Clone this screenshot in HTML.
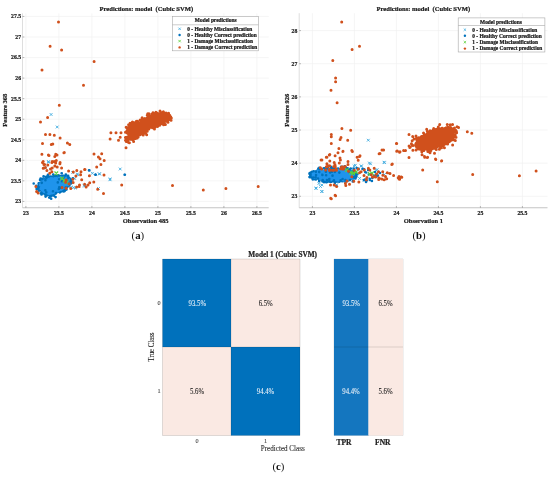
<!DOCTYPE html>
<html><head><meta charset="utf-8"><style>
html,body{margin:0;padding:0;background:#fff;}
svg{display:block;filter:blur(0.3px);}
text{font-family:"Liberation Serif",serif;}
</style></head><body>
<svg width="550" height="477" viewBox="0 0 550 477">
<path d="M25.9 13.4V207.8M58.9 13.4V207.8M91.9 13.4V207.8M124.9 13.4V207.8M157.9 13.4V207.8M190.9 13.4V207.8M223.9 13.4V207.8M256.9 13.4V207.8M22.5 201.4H268.7M22.5 180.85H268.7M22.5 160.3H268.7M22.5 139.75H268.7M22.5 119.2H268.7M22.5 98.65H268.7M22.5 78.1H268.7M22.5 57.55H268.7M22.5 37H268.7M22.5 16.45H268.7" stroke="#f0f0f0" stroke-width="0.7" fill="none"/>
<path d="M22.5 13.4V207.8" stroke="#dedede" stroke-width="1" fill="none"/>
<path d="M22.5 207.8H268.7" stroke="#c4c4c4" stroke-width="1.1" fill="none"/>
<path d="M25.9 207.8v-1.8M58.9 207.8v-1.8M91.9 207.8v-1.8M124.9 207.8v-1.8M157.9 207.8v-1.8M190.9 207.8v-1.8M223.9 207.8v-1.8M256.9 207.8v-1.8M22.5 201.4h1.8M22.5 180.85h1.8M22.5 160.3h1.8M22.5 139.75h1.8M22.5 119.2h1.8M22.5 98.65h1.8M22.5 78.1h1.8M22.5 57.55h1.8M22.5 37h1.8M22.5 16.45h1.8" stroke="#777" stroke-width="0.5" fill="none"/>
<text transform="translate(25.9 215.24) scale(1 1.0)" font-size="5.7" font-weight="bold" text-anchor="middle" fill="#202020" stroke="#202020" stroke-width="0.22">23</text>
<text transform="translate(58.9 215.24) scale(1 1.0)" font-size="5.7" font-weight="bold" text-anchor="middle" fill="#202020" stroke="#202020" stroke-width="0.22">23.5</text>
<text transform="translate(91.9 215.24) scale(1 1.0)" font-size="5.7" font-weight="bold" text-anchor="middle" fill="#202020" stroke="#202020" stroke-width="0.22">24</text>
<text transform="translate(124.9 215.24) scale(1 1.0)" font-size="5.7" font-weight="bold" text-anchor="middle" fill="#202020" stroke="#202020" stroke-width="0.22">24.5</text>
<text transform="translate(157.9 215.24) scale(1 1.0)" font-size="5.7" font-weight="bold" text-anchor="middle" fill="#202020" stroke="#202020" stroke-width="0.22">25</text>
<text transform="translate(190.9 215.24) scale(1 1.0)" font-size="5.7" font-weight="bold" text-anchor="middle" fill="#202020" stroke="#202020" stroke-width="0.22">25.5</text>
<text transform="translate(223.9 215.24) scale(1 1.0)" font-size="5.7" font-weight="bold" text-anchor="middle" fill="#202020" stroke="#202020" stroke-width="0.22">26</text>
<text transform="translate(256.9 215.24) scale(1 1.0)" font-size="5.7" font-weight="bold" text-anchor="middle" fill="#202020" stroke="#202020" stroke-width="0.22">26.5</text>
<text transform="translate(21 203.34) scale(1 1.0)" font-size="5.7" font-weight="bold" text-anchor="end" fill="#202020" stroke="#202020" stroke-width="0.22">23</text>
<text transform="translate(21 182.79) scale(1 1.0)" font-size="5.7" font-weight="bold" text-anchor="end" fill="#202020" stroke="#202020" stroke-width="0.22">23.5</text>
<text transform="translate(21 162.24) scale(1 1.0)" font-size="5.7" font-weight="bold" text-anchor="end" fill="#202020" stroke="#202020" stroke-width="0.22">24</text>
<text transform="translate(21 141.69) scale(1 1.0)" font-size="5.7" font-weight="bold" text-anchor="end" fill="#202020" stroke="#202020" stroke-width="0.22">24.5</text>
<text transform="translate(21 121.14) scale(1 1.0)" font-size="5.7" font-weight="bold" text-anchor="end" fill="#202020" stroke="#202020" stroke-width="0.22">25</text>
<text transform="translate(21 100.59) scale(1 1.0)" font-size="5.7" font-weight="bold" text-anchor="end" fill="#202020" stroke="#202020" stroke-width="0.22">25.5</text>
<text transform="translate(21 80.04) scale(1 1.0)" font-size="5.7" font-weight="bold" text-anchor="end" fill="#202020" stroke="#202020" stroke-width="0.22">26</text>
<text transform="translate(21 59.49) scale(1 1.0)" font-size="5.7" font-weight="bold" text-anchor="end" fill="#202020" stroke="#202020" stroke-width="0.22">26.5</text>
<text transform="translate(21 38.94) scale(1 1.0)" font-size="5.7" font-weight="bold" text-anchor="end" fill="#202020" stroke="#202020" stroke-width="0.22">27</text>
<text transform="translate(21 18.39) scale(1 1.0)" font-size="5.7" font-weight="bold" text-anchor="end" fill="#202020" stroke="#202020" stroke-width="0.22">27.5</text>
<text transform="translate(145.6 223.21) scale(1 1.0)" font-size="6.5" font-weight="bold" text-anchor="middle" fill="#202020" stroke="#202020" stroke-width="0.22">Observation 485</text>
<text transform="translate(6.61 110.2) rotate(-90) scale(1 1.0)" font-size="6.5" font-weight="bold" text-anchor="middle" fill="#202020" stroke="#202020" stroke-width="0.22">Feature 368</text>
<text transform="translate(146.3 10.84) scale(1 1.0)" font-size="6.6" font-weight="bold" text-anchor="middle" fill="#202020" stroke="#202020" stroke-width="0.22">Predictions: model&#160; (Cubic SVM)</text>
<path d="M49.75 113.15l2.7 2.7m0 -2.7l-2.7 2.7M55.85 125.65l2.7 2.7m0 -2.7l-2.7 2.7M47.05 160.85l2.7 2.7m0 -2.7l-2.7 2.7M44.15 166.65l2.7 2.7m0 -2.7l-2.7 2.7M76.35 173.45l2.7 2.7m0 -2.7l-2.7 2.7M83.65 184.55l2.7 2.7m0 -2.7l-2.7 2.7M118.85 167.65l2.7 2.7m0 -2.7l-2.7 2.7M108.65 178.45l2.7 2.7m0 -2.7l-2.7 2.7M91.05 171.95l2.7 2.7m0 -2.7l-2.7 2.7M97.85 172.45l2.7 2.7m0 -2.7l-2.7 2.7M108.75 177.55l2.7 2.7m0 -2.7l-2.7 2.7M76.05 172.65l2.7 2.7m0 -2.7l-2.7 2.7M98.25 172.65l2.7 2.7m0 -2.7l-2.7 2.7M71.35 171.15l2.7 2.7m0 -2.7l-2.7 2.7M82.55 184.25l2.7 2.7m0 -2.7l-2.7 2.7M70.15 185.75l2.7 2.7m0 -2.7l-2.7 2.7M97.15 187.15l2.7 2.7m0 -2.7l-2.7 2.7M47.25 160.25l2.7 2.7m0 -2.7l-2.7 2.7M68.33 178.22l2.7 2.7m0 -2.7l-2.7 2.7M73.36 177.15l2.7 2.7m0 -2.7l-2.7 2.7M74.26 186.69l2.7 2.7m0 -2.7l-2.7 2.7M67.25 185.47l2.7 2.7m0 -2.7l-2.7 2.7M69.62 181.17l2.7 2.7m0 -2.7l-2.7 2.7M72.39 186.28l2.7 2.7m0 -2.7l-2.7 2.7M65.07 187.33l2.7 2.7m0 -2.7l-2.7 2.7M63.03 174.73l2.7 2.7m0 -2.7l-2.7 2.7" stroke="#45aee0" stroke-width="0.95" fill="none"/>
<path d="M44.53 180.19h0M71.31 181.53h0M55.83 175.67h0M61.81 176.28h0M70.58 183.19h0M50.05 196.63h0M47.23 195.08h0M65.3 176.44h0M46.6 194.9h0M71.07 180.2h0M68.09 175.88h0M42.4 192.42h0M40.85 193.47h0M51.37 195.99h0M48.06 177.63h0M52.01 194.41h0M63.89 177.84h0M67.34 185.17h0M50.09 179.31h0M48.55 176.64h0M62.01 190.55h0M60.43 189.97h0M40.72 184.78h0M58.27 175.46h0M55.39 193.56h0M69.57 180.8h0M40.13 179.98h0M67.45 184.27h0M59.82 192.24h0M36.67 188.89h0M59.61 176.18h0M66.9 177.72h0M42.92 193.11h0M46.21 193.87h0M54.6 192.51h0M66.64 187.06h0M58.82 190.35h0M53.04 194.7h0M38.2 186.45h0M53.87 195.51h0M55.53 197.09h0M46.76 178.58h0M70.97 183.42h0M41.84 192.32h0M39.51 185.09h0M70.45 182.12h0M48.43 179.31h0M69.42 178.71h0M39.55 183.32h0M42.42 191.32h0M39.68 184.2h0M69.8 179.44h0M44.79 194.21h0M61.71 173.37h0M53.25 174.65h0M65.61 188.6h0M48.02 175.02h0M50.56 177.07h0M48.84 194.59h0M64.58 191.11h0M45.6 196.56h0M55.11 176.59h0M63.25 188.53h0M40.68 178.59h0M53.21 192.18h0M72.85 178.4h0M48.95 178.79h0M54.44 176.37h0M38.83 190.67h0M65.83 174.53h0M68.1 176.4h0M50.11 195.44h0M63.7 191.4h0M63.83 189.67h0M57.19 178.07h0M67.46 177.65h0M50.88 176.71h0M63.32 175.98h0M63.79 190.99h0M41.55 194.46h0M51.98 193.93h0M36.26 185.8h0M53.8 178.31h0M61.95 190.73h0M44.39 192.17h0M39.02 187.71h0M65.24 188.27h0M37.77 187.95h0M67.95 177.35h0M47.77 176.12h0M49.28 197.59h0M69.17 185.42h0M39.88 188h0M46.8 195.4h0M61.43 191.29h0M62.89 189.56h0M40.46 180.3h0M45.54 194.08h0M46.7 177.87h0M43.57 192.63h0M66.41 186.88h0M46.91 193.4h0M66.25 189.53h0M38.81 183.51h0M51.99 177.72h0M39.87 187.05h0M56.62 177.41h0M46.26 176.96h0M43.62 176.5h0M43.92 180.43h0" stroke="#0072bd" stroke-width="2.8" stroke-linecap="round" fill="none"/>
<path d="M53.05 187.99h0M53.59 181.42h0M52.1 183.36h0M48.29 187.49h0M55.35 183.87h0M59.73 182.52h0M68.95 177.99h0M64.75 184.06h0M51.65 192.14h0M67.07 178.22h0M55.06 190.69h0M41.59 186.38h0M70.75 180.57h0M42.68 181.53h0M49.97 181.46h0M52.79 191.95h0M55.52 187.27h0M69.41 182.64h0M69.3 182.42h0M59.43 188.66h0M53.09 178.43h0M48.42 179.74h0M48.97 184.72h0M48.92 182.41h0M54.51 189.06h0M52.74 193.67h0M52.14 192.2h0M61.2 177.67h0M50.53 182.34h0M53.46 190.43h0M54.21 183h0M61.3 181.29h0M61.77 183.96h0M54.26 179.61h0M45.45 192.49h0M57.41 184.08h0M39.39 187.75h0M47.39 180.82h0M54.79 187.56h0M52.94 189.66h0M69.39 179.22h0M46.55 187.66h0M52.09 182.03h0M55.11 189.33h0M65.2 182.63h0M46.87 189.05h0M45.21 187.01h0M52.52 177.57h0M45.41 187.08h0M51.84 190.61h0M53.9 192.8h0M63.25 185.46h0M50.41 180.09h0M48.3 182.79h0M50.51 179.42h0M54.1 178.13h0M66.77 186.53h0M41.99 182.27h0M47.12 178.98h0M54.34 179.5h0M43.8 189.44h0M52.7 188.86h0M54 185.64h0M48.9 184.15h0M54.35 182.55h0M65.41 180.71h0M46.01 182.58h0M57.04 182.9h0M59.73 191.82h0M46.72 188.77h0M61.69 183.46h0M43.58 187.62h0M45.67 183.04h0M40.42 188.29h0M39.81 186.54h0M42.76 188.61h0M50.51 188.53h0M44.77 181.24h0M44.22 179.79h0M56.38 184.37h0M65.39 185.52h0M56.23 189.59h0M66.29 187.19h0M40.12 184.78h0M39.97 187.57h0M41.02 186.32h0M43.74 192.37h0M41.96 188.62h0M61.49 181.26h0M57.93 182.31h0M47.24 180.96h0M39.45 188.88h0M41.73 191.39h0M55.91 184.94h0M57.63 191.47h0M58.94 185.82h0M48.97 185.89h0M54.23 193h0M39.25 187.04h0M43.35 186.74h0M60.21 176.29h0M66.82 180.83h0M56.69 182.76h0M49.94 183.71h0M39.06 184.2h0M47.43 182.83h0M44.16 182.4h0M45.26 192.59h0M58.64 177.93h0M46.44 178.03h0M59.95 189.52h0M67.62 185.57h0M48.94 182.09h0M45.5 188.15h0M51.33 182.73h0M41.51 187.38h0M70.44 181.29h0M47.61 193.59h0M62.92 188.35h0M45.16 181.3h0M64.86 177.65h0M55.96 180.07h0M63.47 186.97h0M42.17 183.13h0M50.83 179.59h0M48.02 180.74h0M43.89 182.58h0M46.92 185.77h0M44.05 186.89h0M60.53 178.91h0M55.98 179.82h0M50.61 182.19h0M65.05 180.47h0M56.25 187.2h0M49.51 193.79h0M49.58 182.24h0M61.13 185.33h0M62.16 178.92h0M43.68 190.09h0M51.39 192.4h0M46.42 180.59h0M66.6 182.92h0M42.46 180.21h0M63.6 181.07h0M56.75 191.97h0M58.5 190.4h0M70.24 181.72h0M67.02 186.54h0M45.39 178.52h0M49.45 178.63h0M63.67 186.67h0M58.04 184.47h0M43.46 184.99h0M53.65 187.64h0M56.58 187.93h0M45.32 178.84h0M57.7 185.56h0M67.83 180.07h0M42.59 179.06h0M54.89 181.57h0M53.53 189.16h0M49.24 188.73h0M39.57 186.45h0M46.48 181.69h0M53.3 185.74h0M65.2 184.56h0M40.48 189.39h0M46.07 192.89h0M45.73 181.65h0M43.34 181.78h0M58.2 181.11h0M40.49 187.22h0M62.49 178.08h0M52.53 177.3h0M39.48 183.16h0M48.12 192.75h0M39.37 188.37h0M62.45 183.98h0M54.99 180.72h0M43.33 189.86h0M53.6 185.79h0M48.37 179.08h0M64.55 178.36h0M48.42 190.39h0M48.49 194.21h0M44.56 186.09h0M56.18 185.57h0M63.75 176.87h0M56.43 191.11h0M40.56 186.45h0M53.06 183.74h0M56.17 187.95h0M60.24 181.14h0M47.53 178.27h0M60.84 189.19h0M58.55 183.32h0M53.8 180.96h0M49.21 186.96h0M44.73 192.35h0M54.33 183.09h0" stroke="#0072bd" stroke-width="3" stroke-linecap="round" fill="none"/>
<path d="M42.22 181.85h0M57.59 181.85h0M41.7 186.84h0M49.25 191.3h0M60.57 189.21h0M49.99 186.66h0M47.94 180.52h0M47.36 180.91h0M60.01 181.35h0M41.74 184.2h0M46.25 188.67h0M46.85 186.46h0M45.52 185.21h0M65.69 182.22h0M55.77 184.48h0M64.97 182.84h0M60.4 184.05h0M64.84 180.41h0M54.5 186.32h0M63.54 177.64h0M50.96 185.09h0M57.56 179.52h0M56.24 188.74h0M61.77 180.9h0M53.25 182.13h0M51.69 183.22h0M48.75 191.49h0M43.52 190.99h0M54.78 192.33h0M65.91 177.93h0M54.92 181.2h0M50.9 183.98h0M40.5 185.08h0M66.49 178.17h0M54.2 184.45h0M51.37 191.88h0M44.17 180.67h0M65.01 185.32h0M54.82 181.77h0M55.88 185.51h0M49.1 181.02h0M50.82 189.44h0M47.25 181.71h0M43.97 183.7h0M51.23 188.55h0M66.53 181.29h0M64 182.3h0M52.25 179.29h0M66.43 183.39h0M60.83 177.59h0M60.72 180.93h0M53.56 188.41h0M45.36 185.96h0M64.77 179.88h0M54.03 180.23h0M44.57 185.34h0M53.71 187.91h0M50.2 185.28h0M60.31 185.55h0M44.28 191.66h0M48.59 183.92h0M66.19 180.62h0M67.05 180.98h0M42.93 185.74h0M63.59 183.88h0M64.97 183.78h0M64.17 179.04h0M48.65 179.2h0M61.96 185h0M59.51 181.14h0M42.69 182.48h0M65.83 180.94h0M56.82 178.59h0M52.96 186.78h0M47.93 184.21h0M51.07 178.57h0M42.38 190.21h0M63.31 177.19h0M43.77 182.48h0M62.76 181.38h0M49.83 179.28h0M44.34 183.99h0M64.66 178.43h0M52.92 183.08h0M66.42 179.71h0M59.51 182.55h0M48.92 181.76h0M43.96 181.42h0M43.87 190.25h0M68.79 183.56h0M48.74 190.07h0M57.84 188.59h0M56.78 186.05h0M57.81 179.34h0M42.24 182.99h0M56.37 181.31h0M45.61 184.61h0M52.34 181.64h0M41.75 185.17h0M47.32 182.77h0M59.33 178.46h0M48.24 188.71h0M68.16 179.09h0M56.73 184.93h0M49.44 181.96h0M42.91 187.97h0M46.15 184.22h0M67.46 182.97h0M49.61 192.74h0M57.41 186.69h0M46.87 187.87h0M51.45 186.24h0M68.34 182.27h0M48.6 179.42h0M49.3 182.58h0M45.75 181.57h0M48.96 191.49h0M53.41 190.85h0M42.41 185.81h0M48.84 180.4h0M58.15 187.33h0M45.87 186.16h0M53.65 191.3h0M49.96 190.1h0M47.65 193h0M42.38 184.82h0M58.8 186.66h0M58.66 184.14h0M52.94 181.9h0M44.6 182.42h0M67.37 181.46h0M56.14 178.26h0M56.49 187.95h0M45.14 181.55h0M61.87 182.78h0M65.96 181.13h0M49.54 188.72h0M48.79 186.03h0M52.37 188.45h0M47.02 191.18h0M61.2 180.07h0M49.55 182.77h0M67.52 184.77h0M51.96 192.97h0M43.38 188.72h0M51.51 191.08h0M55.93 188.61h0M50.67 186.97h0M60.75 183.45h0M54.7 191.25h0M67.5 183.01h0M62.64 183.3h0M65.19 186.31h0M52.01 183.48h0M59.06 183.92h0M61.03 186.03h0M58.9 182.72h0M65.85 183.7h0M62.09 181.26h0M65.54 183.28h0M54.44 186.1h0M50.44 185.24h0M49.56 188.58h0M68.06 183.2h0M66.26 178.56h0M47.43 187.73h0M43.01 187.22h0M61.06 189.61h0M65.39 182.06h0M43.77 190.81h0M47.3 190.11h0M53.28 191.15h0M48.44 183.09h0M58.72 186.89h0M49.28 179.17h0M62.01 188.64h0M48.36 180.62h0M50.59 178.69h0M46.41 184.47h0M52.2 179.26h0M48.24 188.43h0M52.27 186.68h0M61.88 188.16h0M65.46 178.58h0M55.59 187.43h0M53.92 179.95h0M46.06 183.52h0M67.96 183.17h0M61.08 183.38h0M52.21 179.49h0M45.77 190.03h0M52.91 181.92h0M48.1 184.41h0M56.93 179.93h0M52.85 181.9h0M64.03 178.73h0M42.36 185.98h0M51.78 187.28h0M50.18 193.13h0M46.74 190.86h0M48.19 188.01h0M52.87 185.94h0M55.62 187.61h0M68.71 181.38h0M50.79 181.16h0M52.13 182.52h0M49.83 193.6h0M44.5 186.33h0M64.81 179.28h0M44.33 190.81h0M47.5 180.48h0M67.9 180.4h0M64.65 182.28h0M56.89 182.35h0M50.28 192.73h0M66.87 180.07h0M61.52 179.48h0M59.29 189.29h0M51.9 180.11h0M40.51 184.51h0M67.62 184.65h0M57.67 181.03h0M62.23 184.13h0M60.99 180.88h0M67.83 179.89h0M44.82 191.61h0M59.19 187.24h0M47.8 182.64h0M47.24 184.53h0M59.29 189.33h0M60.98 182.95h0M50.19 189.91h0M68.8 180.86h0M52.43 181.77h0M50.07 188.52h0M51.17 187.8h0M52.79 192.44h0M53.74 190.73h0M57.2 183.38h0M68.59 180.42h0M65.16 187.35h0M53.02 190.93h0M53.24 188.06h0M43.52 189.44h0M50.75 192.33h0M64.79 184.14h0M46.81 190.2h0M48.41 191.5h0M54.38 192.78h0M49.03 192.61h0M49.22 184.64h0M58.84 186.42h0M59.96 188.78h0M61.49 187.18h0M56.82 185.44h0M67.47 182.12h0M66.99 179.96h0M44.88 190.02h0M52.97 188.83h0M48.65 193.03h0M50.35 183.35h0M46.51 181.52h0M60.01 183.46h0M61.46 184.55h0M50.33 179.81h0M47.05 192.22h0M53.66 182.39h0M46.75 191.8h0M60.93 188.76h0M63.86 181.18h0M61.71 178.34h0M59.78 182.54h0M59.69 180.94h0M50.7 188.35h0M67.8 182.85h0M40.88 182.92h0M62.96 179.07h0M52.28 185.84h0M42.13 184.72h0M63.1 186.23h0M57.07 182.29h0M45.04 179.95h0M59.07 190.07h0M48.78 182.74h0M46.11 186.24h0M53.13 179.81h0M62.79 182.03h0M51.77 186.9h0M67.17 181.21h0M54.29 184h0M48.11 189.96h0M43.29 182.29h0M45.77 189.19h0M58.26 183.8h0M63.25 187.76h0M46.95 185.34h0M61.09 187.54h0M56.23 189.48h0M41.34 187.52h0M53.06 191.12h0M68.73 179.02h0M51.44 184.16h0M57.89 182.25h0M59.73 182.65h0M56.58 178.8h0M56.84 185.15h0M59.22 186.62h0M57.1 189.47h0M44.28 189.71h0M58.58 188.66h0M52.04 178.57h0M64.15 178.87h0M44.29 183.96h0M55.93 188.06h0M63.75 178.86h0M50.28 191.99h0M62.42 177.41h0M58.67 179.26h0M65.46 178.24h0M48.53 188.93h0M47.8 180.58h0M50.08 182.05h0M68.47 181.08h0M52.77 185.27h0M44.22 188.21h0M45.41 191.71h0M57.76 179.43h0M65.19 185.93h0M54.55 178.51h0M65.61 178.41h0M60.22 183.43h0M56.04 187.59h0M45.25 191.52h0M49.17 181.91h0M62.88 186.52h0M51.71 190.37h0M48.93 193.8h0M64.4 180.07h0M50.17 185.73h0M43.63 184.23h0M50.71 178.58h0M57.98 184.69h0M45.04 190.32h0M66.04 183.99h0M43.06 181.98h0M50.04 179.97h0M46.62 188.42h0M45.59 182.09h0M45.2 187.13h0M54.11 190.28h0M63.45 187.76h0M63.8 183.48h0M62.21 185.89h0M41.44 184.29h0M57.63 190.91h0M42.06 188.38h0M50.08 187.86h0M66.79 180.47h0M64.69 182.8h0M48.81 188.68h0M67.55 183.07h0M63.58 184.27h0M43.09 185.08h0M40.94 183.85h0M47.93 182.77h0M60.98 181.23h0M62.26 188.82h0M55.79 181.14h0M46.45 184.16h0M48.45 191.94h0M53.97 188.48h0M45.07 182.49h0M46.85 187.48h0M61.71 188.89h0M58.93 178.36h0M63.68 179.34h0M45.27 186.88h0M40.87 188.65h0M65 182.1h0M42.16 189.76h0" stroke="#1f94ec" stroke-width="3" stroke-linecap="round" fill="none"/>
<path d="M55.87 193.16h0M59.21 187.37h0M45.41 180.27h0M52.97 191.21h0M62.02 181.31h0M45.35 190.33h0M70.59 181.87h0M66.1 180.71h0M65.66 187.47h0M63.49 177.39h0M41.75 182.83h0M61.71 187.46h0M60.09 187.78h0M65.92 180.52h0M58.8 189.07h0M63.17 177.81h0M59.08 179.24h0M68.38 177.95h0M46.32 192.36h0M57.81 182.42h0" stroke="#0072bd" stroke-width="2.6" stroke-linecap="round" fill="none"/>
<path d="M89.4 170.4h0M124.6 174.8h0M95.3 174.8h0M124.9 174.7h0M95.8 174.7h0M89 170.4h0M95.5 174.7h0M33.7 183.5h0M51.2 198.7h0" stroke="#0072bd" stroke-width="2.6" stroke-linecap="round" fill="none"/>
<path d="M54.5 171.5l3.6 3.6m0 -3.6l-3.6 3.6M62.7 178.7l3.6 3.6m0 -3.6l-3.6 3.6M64.7 180.5l3.6 3.6m0 -3.6l-3.6 3.6M60.2 176.7l3.6 3.6m0 -3.6l-3.6 3.6" stroke="#5cd13a" stroke-width="1.2" fill="none"/>
<path d="M58.5 22.1h0M50.1 46.3h0M61.6 50.1h0M94.1 61.6h0M42 70h0M83.5 85.2h0M59.3 105.3h0M47.6 117.5h0M40.5 122h0M45.5 134.6h0M49.9 134.6h0M54.3 135.2h0M60.1 138h0M42.5 143.4h0M51.3 144.6h0M52.8 144h0M67.4 143h0M69.8 144.6h0M41.9 154.3h0M48.4 155h0M55.7 154.3h0M63.9 152.8h0M64.3 152.6h0M49 155.5h0M54.8 156.5h0M57 155.1h0M42.5 162.5h0M44.6 164.5h0M47.8 165.1h0M52.2 161.6h0M55.7 163h0M60.1 162.5h0M43.2 161.6h0M43.9 164.5h0M51.9 162.4h0M54.1 161.6h0M56.3 160.5h0M59.9 163.8h0M44 168h0M46.9 170.4h0M52.2 168h0M57.2 166.9h0M61.6 168h0M43.2 168.2h0M45.4 167.5h0M54.8 166h0M50.5 168.9h0M51.9 171.8h0M49.7 173.3h0M73.3 171.9h0M76.8 170.4h0M80.6 174.8h0M85 169.5h0M89.4 175.7h0M93.8 182.1h0M88 185h0M79.2 186.5h0M84.6 169.6h0M81 171.8h0M68.6 171.1h0M75.9 175.9h0M81.7 179.8h0M84.6 184.2h0M89.7 182.7h0M79.5 184.9h0M76.6 187.1h0M86.1 187.1h0M97.7 189.3h0M103.5 193.6h0M35.9 186.4h0M36.6 191.5h0M38.1 192.9h0M110.9 132.7h0M116 132.7h0M121 132.7h0M110.1 138.9h0M118.5 140.3h0M120.2 137.2h0M126 147.8h0M133.6 141.6h0M129.4 142.8h0M101.7 153.7h0M98.4 157h0M96.7 167.1h0M100.9 164.6h0M104.2 160.4h0M100 158.7h0M94 154h0M104 175h0M121.7 185h0M172.5 185.6h0M203.3 190h0M225.9 188.6h0M258.2 186.5h0M70.75 188.56h0M72.86 179.15h0M66.2 188.23h0M62.07 187.5h0M73.16 182.55h0M66.24 179.9h0M65.57 182.23h0M69.06 183.75h0M153.13 114.27h0M148.31 119.79h0M156.45 118.51h0M162.2 117.26h0M131.41 127.75h0M142.65 129.29h0M161.63 123.36h0M155.8 117.16h0M145.95 119.57h0M167.95 118.9h0M155.6 121.22h0M133.08 135.99h0M151.35 117.02h0M150.62 117.97h0M151.35 123.28h0M129.18 136.83h0M147.09 127.92h0M141.02 133.45h0M145.45 127.28h0M163.98 122.41h0M142.41 127.15h0M161.39 116.78h0M128.19 130.12h0M157.86 119.21h0M135.87 122.92h0M138.06 134.93h0M141.46 123.87h0M162.62 116.12h0M152.77 126.07h0M147.02 130.11h0M154.08 118.06h0M158.03 116.14h0M135.41 128.45h0M129.22 129.08h0M134.51 131.45h0M153.06 118.26h0M163.2 114.45h0M141.71 121.7h0M132.29 130.06h0M160.84 121.58h0M132.98 133.87h0M164.39 118.42h0M153 115.68h0M141.23 132.65h0M154.73 118.9h0M133.17 131.04h0M162.22 123.29h0M143.09 127.7h0M141.35 125.48h0M130.99 133.48h0M151.74 121.2h0M130.83 133.77h0M165.38 120.38h0M153.44 118.15h0M143.24 132.35h0M131.63 132.8h0M155.7 123.13h0M130.27 127.14h0M159.17 118.25h0M138.69 127.61h0M159.99 123.79h0M154.33 118.08h0M157.67 125.14h0M143.36 124.46h0M128.98 135.97h0M150.21 123.58h0M133.34 133.69h0M165.98 116.42h0M151.56 125.18h0M158.88 118.24h0M165.72 118.96h0M159.66 114.91h0M140.68 121.54h0M137.87 123.76h0M135.25 131.24h0M138.68 127.36h0M139.39 127.07h0M164.01 117.94h0M136.26 126.81h0M152.61 114.87h0M137.45 125.68h0M159.14 117.57h0M134.06 127.02h0M139.35 134.81h0M144.9 131.84h0M162.41 122.16h0M155.51 118.74h0M130.32 132.81h0M128.24 139.06h0M147.13 124.17h0M158.06 115.37h0M146.47 130.19h0M152.33 119.1h0M135.75 136.9h0M135.84 125.39h0M147.01 129.9h0M154.35 124.09h0M150.87 123.81h0M158.63 123.39h0M148.59 122.24h0M162.07 123.4h0M142.29 125.21h0M143.09 128.84h0M143.32 120.31h0M156.18 115.06h0M163.72 121.56h0M148.21 118.44h0M143.16 127.88h0M129.96 132.94h0M130.2 131.59h0M137.86 130.52h0M143.3 130.35h0M138.35 126h0M157.18 118.38h0M158.87 122.4h0M138.31 124.94h0M145.99 130.42h0M138.83 134.56h0M135.27 129.81h0M144.53 124.4h0M161.65 117.44h0M155.46 114.42h0M159.79 118.87h0M128.94 135.61h0M141.59 126.98h0M128.37 132.71h0M156.53 124.49h0M140.26 125.21h0M166.28 120.62h0M166.75 120.36h0M156.88 116.59h0M161.57 116.26h0M140.63 130.13h0M139.81 133.62h0M143.36 132.73h0M156.71 123.58h0M128.69 139.18h0M157.35 118.63h0M158.06 120.63h0M146.27 120.88h0M147.01 118.89h0M138.97 128.59h0M132.8 137.06h0M130.37 129.2h0M131.01 128.47h0M154.57 121.85h0M150.54 118.45h0M151.89 126.39h0M134.51 129.86h0M161.66 116.74h0M144.4 120.4h0M143.11 127.76h0M132.05 135.25h0M166.11 115.82h0M135.62 125.81h0M166.02 114.98h0M134.73 126.28h0M158.89 116.23h0M161.29 121.51h0M160.17 113.42h0M163.92 117.48h0M148.77 117.56h0M133.02 125.68h0M142.46 128.99h0M141.4 133.55h0M138.26 124.04h0M159.07 124.1h0M140.54 133.03h0M145.85 129.41h0M166.6 117.03h0M156.6 116.57h0M165.36 115.87h0M130.39 128.49h0M146.72 128.37h0M147.24 125.23h0M143.69 124.81h0M159.31 123.22h0M141.07 130.33h0M139.95 130.32h0M151.69 119.95h0M142.11 129.6h0M152.19 117.26h0M157.05 115.24h0M168.02 118.56h0M156.88 122.18h0M129.06 127.99h0M128.88 138.21h0M153.99 115.8h0M134.09 137.55h0M141.58 122.1h0M131.2 134.66h0M153.36 115.8h0M138.45 128.9h0M128.22 137.23h0M144.38 121.52h0M129.86 126.94h0M148.61 124.88h0M151.61 118.77h0M156.72 118.34h0M145.47 130.98h0M143.5 126.73h0M139.93 130.88h0M139.68 134.85h0M139.57 132.6h0M141.52 129.41h0M143.4 122.57h0M153.57 115.72h0M161.22 117.9h0M168.04 118.57h0M135.95 127.16h0M132.94 134.8h0M166.05 116.92h0M151.91 124.52h0M155.3 120.92h0M144.23 125.64h0M165.3 119.75h0M157.56 121.46h0M155.64 115.63h0M131.19 125.87h0M152.29 121.71h0M132.12 135.06h0M133.33 127.77h0M153.84 124.69h0M158.08 120.04h0M145.26 124.32h0M160.09 117.84h0M147.13 125.68h0M140.78 131.93h0M130.67 126.55h0M129.65 127.96h0M135.32 123.05h0M140.3 129.4h0M141.3 128.52h0M167.65 116.3h0M139.85 134.17h0M133.74 127h0M139.97 127.97h0M130.05 129.14h0M159.68 115.71h0M163.84 114.63h0M157.43 118.42h0M154.9 120.93h0M131.22 125.61h0M143.63 128.87h0M141.69 124.14h0M167.77 120.73h0M132.9 135.59h0M131.22 134.4h0M130.34 139.24h0M164.16 121.29h0M132.92 137.09h0M148.38 119.77h0M144.6 130.43h0M134.31 126.02h0M131.21 126.92h0M138.5 128.15h0M131.09 132.38h0M159.44 114.69h0M157.92 116.79h0M167.11 120.78h0M142.76 121.95h0M132.87 137.9h0M165.01 116.42h0M166.75 117.73h0M144.69 127.9h0M158.29 122.49h0M130.73 132.26h0M159.89 117.85h0M146.77 127.25h0M156.25 123.71h0M144.82 122.99h0M148.16 120.7h0M145.95 121.03h0M141.93 129.86h0M150.72 125.1h0M141.19 132.27h0M138.6 126.87h0M156.01 118.53h0M130.14 134.52h0M140.99 130.92h0M131.09 131.04h0M146.23 119.18h0M158.67 122.95h0M131.25 127.78h0M164.61 114.62h0M159.77 120.16h0M156.66 123.36h0M141.02 126.31h0M143.61 131.44h0M141.99 129.55h0M146.75 128.33h0M136.76 123.54h0M130.67 130.89h0M131.97 129.89h0M132.89 137.25h0M133.44 128.8h0M145.63 120.89h0M154.47 119.07h0M143.04 129.98h0M166.22 121.26h0M156.64 125.1h0M160.85 119.41h0M146.95 118.19h0M146.89 119.43h0M154.59 118.15h0M162.2 121.15h0M141.68 121.94h0M134.07 126.4h0M142.97 124.5h0M136.67 126.85h0M167.22 115.4h0M145.98 122.66h0M148.68 118.35h0M142.15 124.11h0M133.69 128.08h0M154.78 125.58h0M128.08 132.47h0M138.29 134.24h0M147.96 127.6h0M130.47 126.49h0M140.75 123.68h0M145.97 121.03h0M156.07 113.97h0M140 134.85h0M142.14 122.7h0M155.16 114.88h0M144.33 130.36h0M156.27 125.32h0M144.89 121.8h0M145.89 120.32h0M150.2 119.08h0M164.6 121.17h0M146.82 120.23h0M147.65 122.17h0M143.59 125.64h0M155.83 120.41h0M162.32 120.56h0M141.07 132.71h0M143.41 122.05h0M146.3 120.86h0M143.62 122.09h0M143.3 129.86h0M148.33 118.43h0M157.66 117.34h0M156.75 119.97h0M159.93 116.57h0M138.76 125.6h0M134.77 127.69h0M141.93 130.84h0M137.86 132.25h0M130.45 138.73h0M151.64 120.46h0M145.69 127.11h0M149.18 119.8h0M138.64 122.93h0M150 122.79h0M129.82 137.5h0M166.6 118.13h0M145.02 123.21h0M134.56 131.02h0M137.16 127.03h0M156.9 123.55h0M144.96 130.69h0M133.99 135.84h0M135.78 132.17h0M134.34 136.98h0M135.99 132.9h0M162.56 119.99h0M131.46 128.97h0M148.4 126.07h0M148.32 126.29h0M146.55 124.08h0M160.23 116.17h0M136.16 127.35h0M143.16 126.69h0M146.42 124.35h0M144.66 129.24h0M131.39 137.23h0M130.76 137.48h0M156.26 123.11h0M131.19 136.6h0M155.31 119.37h0M151.23 121.43h0M136.7 125.49h0M131.58 138.24h0M162.39 116.95h0M156.52 121.39h0M142.6 131.87h0M148.03 120.69h0M141.83 128.76h0M167 121.14h0M161.32 116.17h0M139.2 127.22h0M160.05 113.54h0M166.88 119.78h0M141.47 125.62h0M162.39 122.76h0M154.27 122.06h0M149.97 116.08h0M129.15 138.68h0M149.75 116.48h0M165.54 120.4h0M142.4 124.2h0M132.11 133.83h0M145.39 128.48h0M139.46 122.85h0M152.46 124.54h0M138.74 127.15h0M156.25 115.43h0M137.82 133.69h0M165.79 115.49h0M152.71 123.6h0M130.35 133.94h0M139.94 125.75h0M161.97 114.03h0M139.73 126.32h0M163.1 120.4h0M161.91 119.71h0M140.23 128.09h0M164.26 119.86h0M165.79 116.53h0M134.52 133.8h0M140.33 128.95h0M148.32 117.03h0M142.91 125.15h0M134.95 126.52h0M160.9 120.79h0M160.42 121.54h0M159.85 123.47h0M136.77 136.19h0M137.25 126.43h0M135.97 134.3h0M129.45 137.5h0M155.72 117.35h0M152.79 122.74h0M147.6 120.19h0M159.5 116.39h0M140.64 126.9h0M129.22 135.78h0M136.35 124.65h0M132.39 130.58h0M152.88 118.44h0M156.72 116.22h0M138.84 125.23h0M143.05 123.65h0M136.25 127.22h0M129.28 137.71h0M154.74 120.91h0M132.06 126.09h0M128.54 135.99h0M160.05 114.32h0M132.86 127.31h0M156.33 122.17h0M158.24 122.03h0M148.3 125.81h0M155.18 118.94h0M135.07 136.32h0M156.61 121.69h0M151.61 120.12h0M159.01 123.24h0M158.16 116.46h0M131.26 130.14h0M165.9 117.28h0M149.97 126.82h0M165.16 117.43h0M159.79 120.54h0M151.5 120.66h0M141.13 134.06h0M152.73 114.42h0M134.67 133.79h0M130.23 137.49h0M136.98 127.82h0M160.49 124.05h0M152.41 119.06h0M131.99 127.45h0M159.45 114.87h0M163.04 115.31h0M158.8 122.31h0M161.26 115.67h0M156.03 122.19h0M166.89 121.13h0M158.22 120.98h0M145.27 130.32h0M131.93 133.13h0M136.82 126.59h0M161.83 120.21h0M130.87 125.74h0M140.12 130.75h0M133.9 129.8h0M157.43 122.37h0M134.97 136.76h0M159.29 119.13h0M130.51 132.24h0M143.27 132.59h0M139.92 130.81h0M143.85 125.69h0M146.85 120.63h0M128.39 133.86h0M147.26 118.52h0M144.71 120.19h0M143.49 125.22h0M151.21 119.08h0M138.44 127.05h0M131.78 134.23h0M134.88 125.11h0M154.35 116.82h0M144.65 128.34h0M160.32 116.35h0M155.87 117.41h0M136.65 135.65h0M161.27 123.38h0M149.62 117.77h0M134.3 133.27h0M156.54 114.06h0M160.19 122.23h0M149 118.35h0M152.9 123.85h0M157.68 119.88h0M130.25 136.93h0M152.85 124.44h0M142.42 126.35h0M136.87 124.67h0M144 120.79h0M153.19 120.02h0M167.04 117.99h0M128.03 139.14h0M165.32 119.67h0M136.58 132.46h0M138.53 132.33h0M159.14 113.63h0M132.3 132.37h0M165.65 114.68h0M153.81 124.72h0M156.98 119.69h0M150.1 120.13h0M162.36 118.83h0M167.44 119.28h0M153.53 120.25h0M161.65 118.52h0M153.89 121.6h0M134.95 136.32h0M135.04 129.6h0M139.57 126.98h0M146.74 128.35h0M138.94 130.9h0M143.4 124.54h0M155.63 121.86h0M167.11 118.09h0M130.1 137.35h0M144.74 126.86h0M166.63 119.02h0M149.21 125.74h0M148.12 119.11h0M141 124.99h0M146.24 127.94h0M128.73 132.98h0M141.46 123.11h0M129.19 136.98h0M152.59 117.19h0M144.51 120.3h0M128.28 139.26h0M161.62 119.95h0M135.54 127.31h0M141.85 128.95h0M132.76 127.14h0M140.5 132.19h0M158.5 115.29h0M136.42 133.18h0M135.62 127.47h0M138.45 124.77h0M146.15 120.49h0M162.72 115.53h0M147.36 129.5h0M130 134.47h0M143.1 125.8h0M136.49 124.77h0M134.33 135.52h0M166.45 115.08h0M155.95 121.31h0M156.35 113.56h0M140.86 122.13h0M151.71 115.84h0M153.55 124.18h0M133.87 129h0M149.06 123.82h0M144.55 120.36h0M131.89 128.1h0M143.63 130.99h0M161.16 123.83h0M146.19 130.19h0M132.21 127.49h0M133.69 127.14h0M146 123.36h0M131.96 125.32h0M160.18 121.06h0M152.89 114.57h0M136.08 123.93h0M140.88 123.4h0M153.06 118.48h0M137.95 129.97h0M169.62 115.23h0M168.61 113.31h0M146.66 134.79h0M127.17 140.11h0M145.65 132.99h0M135.43 136.09h0M164.55 124.32h0M170.72 116.95h0M169.44 119.58h0M165.97 114.45h0M141.3 120.36h0M135.39 137.38h0M163.79 115.22h0M127.54 129.44h0M160.03 111h0M132.32 139.41h0M141.94 133.53h0M163.61 113.73h0M132.02 122.9h0M134.88 137.66h0M144.83 118.38h0M127.62 127.61h0M129.82 137.8h0M127.23 133.04h0M128.6 129.99h0M126.23 139.04h0M125.47 132.23h0M130.06 123.13h0M171.08 120.33h0M127 127.81h0M156.84 113.24h0M152.94 127.86h0M128.31 139.19h0M163.49 114.94h0M157.49 126.43h0M171.32 118.03h0M163.53 124.69h0M153.01 112.83h0M126.3 141.38h0M166.09 113.08h0M141.83 133.25h0M148.08 115.03h0M145.61 119.08h0M155.92 112.27h0M154.86 127.6h0M169.98 115.87h0M137.17 138.09h0M131.89 123.04h0M128.6 124.74h0M161.56 112.84h0M136.41 121.27h0M152.06 127.57h0M156.6 114.34h0M152.96 112.86h0M163.25 124.37h0M149.01 113.72h0M127.54 140.91h0M140.56 121.05h0M146.2 131.52h0M133.37 122.43h0M148.85 128.97h0M165.25 113.58h0M161.02 112.79h0M133.28 139.21h0M164.05 112.68h0M137.39 121.54h0M142.1 117.86h0M147.25 131.28h0M162.81 112.28h0M132.42 122h0M147.72 113.87h0M154.46 129.05h0M135.5 138.62h0M143.3 134.61h0M163.36 111.82h0M137.46 121.27h0M168.31 114.91h0M127.04 130.68h0M170.82 117.49h0M125.48 140.35h0M169.03 116.98h0M137.91 137.28h0M132.45 122.86h0M147.22 115.19h0M130.74 125.56h0M126.43 137.13h0M167.99 122.13h0M147.87 115.88h0M129.64 128.25h0M126.15 127.33h0M135.35 122.44h0M125.4 137.55h0M161.47 112.57h0M139.66 134.39h0M152.33 127.8h0M152.01 114.07h0M153.48 113.23h0M138.16 137.02h0M129.15 125.3h0M143.2 135.08h0M128.55 127.31h0M151.21 127.24h0M160.73 114.31h0M140.12 120h0M128.41 142.14h0M159.62 125.37h0M157.5 113.14h0M165.4 124.4h0M160.52 112.66h0M132.78 123.4h0" stroke="#d0501c" stroke-width="3.0" stroke-linecap="round" fill="none"/>
<rect x="172.3" y="16.4" width="86.1" height="34.4" fill="#fff" stroke="#a8a8a8" stroke-width="0.6"/>
<path d="M172.3 24.8H258.4" stroke="#a8a8a8" stroke-width="0.6"/>
<text transform="translate(215.7 22.34) scale(1 1.0)" font-size="5.4" font-weight="bold" text-anchor="middle" fill="#202020" stroke="#202020" stroke-width="0.22">Model predictions</text>
<text transform="translate(187.2 30.64) scale(1 1.0)" font-size="5.4" font-weight="bold" text-anchor="start" fill="#202020" stroke="#202020" stroke-width="0.22">0 - Healthy Misclassification</text>
<text transform="translate(187.2 36.84) scale(1 1.0)" font-size="5.4" font-weight="bold" text-anchor="start" fill="#202020" stroke="#202020" stroke-width="0.22">0 - Healthy Correct prediction</text>
<text transform="translate(187.2 42.94) scale(1 1.0)" font-size="5.4" font-weight="bold" text-anchor="start" fill="#202020" stroke="#202020" stroke-width="0.22">1 - Damage Misclassification</text>
<text transform="translate(187.2 49.24) scale(1 1.0)" font-size="5.4" font-weight="bold" text-anchor="start" fill="#202020" stroke="#202020" stroke-width="0.22">1 - Damage Correct prediction</text>
<path d="M178.4 27.6l2.4 2.4m0 -2.4l-2.4 2.4" stroke="#45aee0" stroke-width="0.8" fill="none"/>
<path d="M179.6 35h0" stroke="#0072bd" stroke-width="2.4" stroke-linecap="round" fill="none"/>
<path d="M178.4 39.9l2.4 2.4m0 -2.4l-2.4 2.4" stroke="#5cd13a" stroke-width="0.8" fill="none"/>
<path d="M179.6 47.4h0" stroke="#d0501c" stroke-width="2.4" stroke-linecap="round" fill="none"/>
<path d="M312.4 13.2V207.8M354.4 13.2V207.8M396.4 13.2V207.8M438.4 13.2V207.8M480.4 13.2V207.8M522.4 13.2V207.8M299.2 196.3H547.5M299.2 163.16H547.5M299.2 130.02H547.5M299.2 96.88H547.5M299.2 63.74H547.5M299.2 30.6H547.5" stroke="#f0f0f0" stroke-width="0.7" fill="none"/>
<path d="M299.2 13.2V207.8" stroke="#dedede" stroke-width="1" fill="none"/>
<path d="M299.2 207.8H547.5" stroke="#c4c4c4" stroke-width="1.1" fill="none"/>
<path d="M312.4 207.8v-1.8M354.4 207.8v-1.8M396.4 207.8v-1.8M438.4 207.8v-1.8M480.4 207.8v-1.8M522.4 207.8v-1.8M299.2 196.3h1.8M299.2 163.16h1.8M299.2 130.02h1.8M299.2 96.88h1.8M299.2 63.74h1.8M299.2 30.6h1.8" stroke="#777" stroke-width="0.5" fill="none"/>
<text transform="translate(312.4 215.24) scale(1 1.0)" font-size="5.7" font-weight="bold" text-anchor="middle" fill="#202020" stroke="#202020" stroke-width="0.22">23</text>
<text transform="translate(354.4 215.24) scale(1 1.0)" font-size="5.7" font-weight="bold" text-anchor="middle" fill="#202020" stroke="#202020" stroke-width="0.22">23.5</text>
<text transform="translate(396.4 215.24) scale(1 1.0)" font-size="5.7" font-weight="bold" text-anchor="middle" fill="#202020" stroke="#202020" stroke-width="0.22">24</text>
<text transform="translate(438.4 215.24) scale(1 1.0)" font-size="5.7" font-weight="bold" text-anchor="middle" fill="#202020" stroke="#202020" stroke-width="0.22">24.5</text>
<text transform="translate(480.4 215.24) scale(1 1.0)" font-size="5.7" font-weight="bold" text-anchor="middle" fill="#202020" stroke="#202020" stroke-width="0.22">25</text>
<text transform="translate(522.4 215.24) scale(1 1.0)" font-size="5.7" font-weight="bold" text-anchor="middle" fill="#202020" stroke="#202020" stroke-width="0.22">25.5</text>
<text transform="translate(297.3 198.24) scale(1 1.0)" font-size="5.7" font-weight="bold" text-anchor="end" fill="#202020" stroke="#202020" stroke-width="0.22">23</text>
<text transform="translate(297.3 165.1) scale(1 1.0)" font-size="5.7" font-weight="bold" text-anchor="end" fill="#202020" stroke="#202020" stroke-width="0.22">24</text>
<text transform="translate(297.3 131.96) scale(1 1.0)" font-size="5.7" font-weight="bold" text-anchor="end" fill="#202020" stroke="#202020" stroke-width="0.22">25</text>
<text transform="translate(297.3 98.82) scale(1 1.0)" font-size="5.7" font-weight="bold" text-anchor="end" fill="#202020" stroke="#202020" stroke-width="0.22">26</text>
<text transform="translate(297.3 65.68) scale(1 1.0)" font-size="5.7" font-weight="bold" text-anchor="end" fill="#202020" stroke="#202020" stroke-width="0.22">27</text>
<text transform="translate(297.3 32.54) scale(1 1.0)" font-size="5.7" font-weight="bold" text-anchor="end" fill="#202020" stroke="#202020" stroke-width="0.22">28</text>
<text transform="translate(423.3 222.91) scale(1 1.0)" font-size="6.5" font-weight="bold" text-anchor="middle" fill="#202020" stroke="#202020" stroke-width="0.22">Observation 1</text>
<text transform="translate(289.01 110.2) rotate(-90) scale(1 1.0)" font-size="6.5" font-weight="bold" text-anchor="middle" fill="#202020" stroke="#202020" stroke-width="0.22">Feature 926</text>
<text transform="translate(423.3 11.04) scale(1 1.0)" font-size="6.6" font-weight="bold" text-anchor="middle" fill="#202020" stroke="#202020" stroke-width="0.22">Predictions: model&#160; (Cubic SVM)</text>
<path d="M366.95 138.85l2.7 2.7m0 -2.7l-2.7 2.7M382.75 160.85l2.7 2.7m0 -2.7l-2.7 2.7M368.05 161.65l2.7 2.7m0 -2.7l-2.7 2.7M360.15 164.65l2.7 2.7m0 -2.7l-2.7 2.7M352.85 164.65l2.7 2.7m0 -2.7l-2.7 2.7M374.85 169.05l2.7 2.7m0 -2.7l-2.7 2.7M320.55 183.65l2.7 2.7m0 -2.7l-2.7 2.7M314.65 186.65l2.7 2.7m0 -2.7l-2.7 2.7M319.15 185.15l2.7 2.7m0 -2.7l-2.7 2.7M320.55 190.15l2.7 2.7m0 -2.7l-2.7 2.7M335.25 183.65l2.7 2.7m0 -2.7l-2.7 2.7M383.15 161.35l2.7 2.7m0 -2.7l-2.7 2.7M383.15 173.15l2.7 2.7m0 -2.7l-2.7 2.7M353.95 163.95l2.7 2.7m0 -2.7l-2.7 2.7M359.75 164.65l2.7 2.7m0 -2.7l-2.7 2.7M369.15 162.45l2.7 2.7m0 -2.7l-2.7 2.7M375.75 168.25l2.7 2.7m0 -2.7l-2.7 2.7M358.25 177.05l2.7 2.7m0 -2.7l-2.7 2.7M362.65 179.15l2.7 2.7m0 -2.7l-2.7 2.7M317.55 182.15l2.7 2.7m0 -2.7l-2.7 2.7M314.65 187.15l2.7 2.7m0 -2.7l-2.7 2.7M320.45 190.15l2.7 2.7m0 -2.7l-2.7 2.7M327.05 179.95l2.7 2.7m0 -2.7l-2.7 2.7M335.05 183.55l2.7 2.7m0 -2.7l-2.7 2.7" stroke="#45aee0" stroke-width="0.95" fill="none"/>
<path d="M338.81 179.82h0M313.92 176.02h0M323.75 168.32h0M352.95 181.26h0M353.71 172.92h0M344.71 166.51h0M328.42 181.3h0M333.05 168.2h0M350.81 178.78h0M313.16 172.28h0M325.98 171.72h0M336.5 169.1h0M322.61 171.87h0M352.98 170.8h0M314.53 175.75h0M351.38 178.18h0M347.62 168.44h0M311.37 175.9h0M322.34 179.41h0M340.21 169.47h0M355.62 173.38h0M330.18 170.16h0M350.47 178.55h0M326.72 169.99h0M324.84 168.5h0M322.48 181.36h0M322.03 179.64h0M314.37 176.81h0M324.71 181.54h0M328.19 179.12h0M312.01 172.08h0M311.02 172.98h0M344.63 167.44h0M338.16 168.67h0M344.71 181.38h0M352.81 177.28h0M312.73 179.29h0M330.96 180.71h0M354.2 177.25h0M323.9 181.39h0M321.18 171.35h0M319.29 167.97h0M313.12 179.07h0M347.29 168.86h0M310.5 176.13h0M347.22 168.79h0M355.39 178.41h0M313.72 171.32h0M315.86 179.46h0M347.5 169.45h0M312.63 178.49h0M350.81 178.49h0M318.41 168.6h0M309.55 173.67h0M326.04 168.12h0M315.64 172.96h0M352.23 171.74h0M356 172.17h0M330.97 181.69h0M322.73 171.09h0M334.69 170.88h0M320.01 169.38h0M320.29 178.77h0M310.67 177.16h0M319.64 179.63h0M342.07 168.61h0M352.8 181.42h0M345.31 166.95h0M356.37 176.58h0M323.27 179.12h0M349.87 171.12h0M309.86 173.25h0M330.61 181.54h0M326.19 169.41h0M317.4 170.75h0M310.55 174.95h0M311.8 176.48h0M357.32 174.15h0M320.38 171.06h0M326.34 182.15h0M346.39 180.89h0M347.31 180.94h0M314.17 179.08h0M341.15 166.84h0M347.61 179.26h0M334.85 168.48h0M329.92 181.61h0M335.41 181.83h0M350.7 168.55h0M309.56 177.05h0M311 173.21h0M310.48 174.79h0M321.59 170.01h0M330.95 166.94h0M347.92 169.77h0M319.19 181.08h0M326.91 182.04h0M344.25 180.41h0M311.23 173.52h0M315.74 171.62h0M335.19 181.33h0M311.65 172.22h0M324.17 182.12h0M311.02 176.69h0M329.32 180.66h0M356.25 174.69h0M353.66 168.66h0M312.1 174.1h0M338.03 168.95h0M318.09 170.42h0M334.83 182.87h0M319.72 179.1h0M321.03 172.22h0M332.16 181.05h0M322.17 179.87h0M327.84 167.61h0M314.5 171.93h0M345.02 166.69h0M331.7 181.6h0M316.77 172.31h0" stroke="#0072bd" stroke-width="2.8" stroke-linecap="round" fill="none"/>
<path d="M314.42 178.17h0M344.18 176.74h0M332.61 174.48h0M337.38 169.74h0M346.3 178.68h0M341.2 171.44h0M353.2 178.28h0M345.88 174.41h0M350 177.52h0M330.31 177.39h0M314.27 173.56h0M348.51 174.7h0M335.62 175.78h0M341.23 174.29h0M338.05 170.75h0M336.8 174.04h0M328.87 180.15h0M314.73 175.79h0M329.27 170.32h0M328.41 179.87h0M319.57 177.37h0M322.73 175.23h0M335.39 169.25h0M346.91 173.35h0M320.1 171.07h0M331.72 171.91h0M342.43 169h0M312.91 172.76h0M345.37 169.08h0M349.98 174.51h0M324.57 177.36h0M332.57 171.99h0M334.21 176.8h0M324.7 179.3h0M344.25 178.35h0M340.28 171.37h0M342.33 170.63h0M317.06 175.02h0M337.23 181.32h0M313.19 174.23h0M314.75 175.49h0M336.45 174.85h0M333.46 175.95h0M340.64 180.39h0M330.17 180.49h0M318.58 174.35h0M318.62 173.27h0M331.87 171.99h0M325.16 180.33h0M330.35 170.95h0M348.11 175.11h0M329.84 180.36h0M354.01 174.37h0M329.5 177.44h0M344.34 170.89h0M354.77 175.81h0M313.25 175.46h0M340.54 173.36h0M346.51 178.9h0M342.09 171.44h0M350.5 172.91h0M328.02 173.68h0M334.52 177.77h0M337.82 169.49h0M332.96 176.68h0M343.81 173.42h0M326.14 177.6h0M326.19 178.52h0M343.34 169.9h0M346.72 169.54h0M339.88 179.73h0M352.22 171.83h0M346.35 173.27h0M316.36 176.73h0M339.45 179.61h0M323.92 178.48h0M322.65 172.48h0M340.08 173.54h0M349.82 170.47h0M325.82 175.11h0M313.67 173.25h0M345.21 178.56h0M317.36 172.35h0M322.73 177.44h0M315.9 175.36h0M342.21 180.96h0M338.22 179.72h0M334.49 171.25h0M329.56 176.4h0M334.49 178.74h0M334.87 173.41h0M333.78 175.23h0M336.37 177.81h0M329.86 178.26h0M333.25 173.23h0M321.56 178.95h0M352.01 178.03h0M320.58 177.72h0M333.33 180.64h0M331.6 179.72h0M341.69 175.42h0M328.54 175.78h0M317.33 177.39h0M335.15 178.21h0M329.27 171.73h0M346.46 171.21h0M313.41 173.22h0M330.92 171.09h0M316.16 177.13h0M317.11 172.03h0M329.24 171.95h0M339.99 170.17h0M339.56 169.84h0M336.69 181.36h0M345.96 180.93h0M335.17 170.41h0M327.29 178.66h0M316.61 177.16h0M325.15 180.55h0M326.4 172.6h0M322.9 175.5h0M353.38 175.51h0M343.92 175.25h0M314.41 176.13h0M337.33 176.26h0M324.07 171.86h0M317.92 172.13h0M333.65 180.47h0M342.1 175.19h0M342.81 174.23h0M312.82 177.46h0M342.3 177.05h0M348.9 178.73h0M337.26 176.48h0M322.8 172.34h0M349.99 176.31h0M336.93 176.31h0M312.36 176.65h0M327.92 174.04h0M319.01 176.23h0M340.87 180.21h0M354.42 177.65h0M323.28 175.51h0M314.44 175.86h0M324.39 175.46h0M344.31 169.11h0M332.65 171.21h0M312.45 174.7h0M347.64 171.57h0M352.74 176.42h0M349.03 169.75h0M345.48 175.35h0M331.11 169.37h0M344.89 177.74h0M316.79 175.1h0M318.68 177.8h0M319.17 170.6h0M347.37 173.68h0M346.3 173.12h0M349.2 178.71h0M312.6 174.23h0M322.35 173.43h0M327.81 173.56h0M323.69 176.97h0M341.88 178.32h0M339.24 180.23h0M335.62 172.48h0M335.9 170.48h0M333.62 180.9h0M337.83 172.42h0M346.85 173.57h0M329.69 172.06h0M328.71 178.43h0M334.21 170.06h0M346.79 179.93h0M331.14 173.09h0M327.52 169.81h0M354.14 176.9h0M324.72 176.11h0M333.14 177.64h0M318.86 174.62h0M342.68 173.47h0M313.61 174.56h0M347.62 174.47h0M354.6 175.77h0M338.99 175.11h0M326.73 180.34h0M314.82 174.79h0M345.72 170.98h0M349.81 178.98h0M328.64 174.73h0M336.47 179.11h0M336.75 170.18h0M319.38 173.96h0M339.28 181.38h0M332.04 180.29h0M326.82 174.63h0M311.67 173.42h0M326.54 169.96h0M348 172.02h0" stroke="#0072bd" stroke-width="3" stroke-linecap="round" fill="none"/>
<path d="M334.44 175.1h0M329.5 179.98h0M328 174.56h0M341.05 179.59h0M348.1 179.07h0M346.65 172.95h0M345.88 179.86h0M343.28 177.48h0M347.26 179.04h0M344.86 170.15h0M335.22 179.54h0M340.74 170.88h0M316.51 172.88h0M320.8 177.27h0M351.9 174.51h0M325.32 179.11h0M324.64 177.29h0M350.35 177.71h0M346.12 175.92h0M346.01 174.48h0M329.27 177.09h0M331.66 172.74h0M323.27 174.14h0M328.17 177.65h0M344.99 178.14h0M347.53 173.31h0M327.65 178.58h0M319.73 177.07h0M334.14 176.68h0M341.34 176.71h0M333.3 176.62h0M316.01 174.37h0M336.78 177.05h0M319.67 178.41h0M346.17 171.3h0M345.84 173.53h0M326.17 171.07h0M336.93 176.09h0M333.58 170.4h0M345.47 172.8h0M323.26 176.4h0M339.3 178.04h0M326.44 174.04h0M322.71 172.08h0M329.55 178.02h0M333.23 178.53h0M316.87 172.5h0M314.83 175.3h0M340.35 171.56h0M339.37 175h0M337.47 176.14h0M352.18 177.81h0M325.27 177.58h0M350.54 172.36h0M346.55 176.07h0M343.32 177.48h0M350.06 178.53h0M339.18 172.91h0M332.85 172.38h0M326.28 174.4h0M329.89 172.5h0M324.93 172.75h0M320.2 175.75h0M316.07 172.05h0M319.33 177.13h0M346.54 174.15h0M345.83 172.85h0M326.69 175.49h0M339.77 177.76h0M334.61 173.87h0M320.26 171.19h0M329.69 177.31h0M341.41 174.77h0M332.28 175.43h0M326.69 177.56h0M329.68 174.89h0M315.45 177.24h0M339.83 173.11h0M323.6 173.04h0M339.04 175.84h0M341.95 178.83h0M313.01 175.51h0M328.97 176.93h0M334.23 173.15h0M330.85 173.03h0M328.06 176.51h0M326.23 178.73h0M327.31 174.11h0M330.32 179.31h0M337.49 179.99h0M338.65 176.89h0M328.56 173.6h0M338.3 173.08h0M319.31 171.43h0M331.19 179.39h0M336.53 177.5h0M316.61 176.97h0M341.98 176.02h0M345.36 177.27h0M342.56 173.22h0M340.51 172.75h0M346.25 174.58h0M324.5 172.12h0M326.98 173.37h0M321.65 171.72h0M352.81 173.96h0M338.25 177.08h0M326.08 179.66h0M324.48 171.42h0M314.77 176.25h0M351.92 177.37h0M335.21 179.77h0M334.35 171.25h0M344.8 179.88h0M314.7 174.88h0M320.82 176.4h0M341.13 177.72h0M314.42 174.65h0M351.3 175.51h0M322.81 174.68h0M338.42 176.99h0M337.95 180.21h0M331.67 177.69h0M322.62 178.88h0M333.13 178.34h0M333.99 178.53h0M341.82 176.38h0M350.93 175.08h0M341.78 176.7h0M328.58 175.13h0M352.88 174.71h0M336.21 176.93h0M345.32 177.64h0M347.3 177.9h0M347.08 178.37h0M323.2 176.22h0M331.67 173.62h0M329.36 176.76h0M327.53 176.25h0M338.51 173.81h0M339.21 176.57h0M343.42 171.14h0M339.49 173.92h0M348.97 176.15h0M346.11 178.28h0M343.96 169.91h0M351.85 176.95h0M329.9 176.72h0M317.72 176.37h0M351.43 172.74h0M328.8 179.71h0M345.51 173.56h0M339.82 174.94h0M325.65 174.6h0M315.26 176.45h0M347.64 179.34h0M318.23 174.91h0M341.67 172.46h0M350.19 176.04h0M337.52 173.95h0M316.71 173.83h0M343.21 175.75h0M337.03 172.39h0M333.48 174.24h0M330.49 174.87h0M324.44 175.58h0M325.17 173.58h0M327.27 171.12h0M328.54 173.43h0M349.61 175.27h0M348.56 173.8h0M328.53 175.36h0M340.6 178.7h0M346.38 172.76h0M342.97 173.46h0M347.69 177.03h0M318.33 172.07h0M325.21 174.99h0M337.41 170.5h0M315.88 176.67h0M340.07 176.62h0M325.11 173.03h0M339.35 170.35h0M323.76 171.24h0M314.18 174.54h0M320.74 174.64h0M320.82 178.07h0M316.87 177.84h0M339.69 171.05h0M328.02 173.53h0M331.22 176.77h0M341.41 170.32h0M347.5 173.4h0M313.31 173.74h0M329.78 173.82h0M337.15 177.98h0M345.16 179.61h0M340.49 179.02h0M331.08 179.08h0M317.48 171.83h0M348.31 173.02h0M348.13 179.74h0M344.59 179.53h0M322.87 171.45h0M351.12 171.58h0M338.54 172.45h0M334.78 174.12h0M342.34 171.52h0M325.78 178.54h0M347.54 177.43h0M348.39 171.45h0M350.17 175.28h0M317.68 176.01h0M346.43 179.26h0M352.51 176.43h0M336.59 171.45h0M352.52 177.44h0M340.15 176.99h0M347.39 173.1h0M325.17 178.94h0M338.35 175.76h0M312.96 174.03h0M317.3 173.58h0M328.45 174h0M325.41 177.95h0M331.57 179.36h0M326.59 170.88h0M327.05 178.96h0M327.21 178.39h0M341.18 172.16h0M330.99 176.99h0M328.99 172.47h0M328.22 179.67h0M316.54 176.12h0M334.23 179.27h0M338.7 178.23h0M344.5 175.58h0M333.62 175.62h0M329.47 175.56h0M349.48 173.15h0M330.63 174.15h0M348.43 172.01h0M330.57 177.62h0M328.6 178.78h0M334.69 170.39h0M327.53 170.92h0M330.57 173.33h0M326.39 178.49h0M349.72 177.67h0M344.24 179.19h0M349.72 171.08h0M323.57 178.06h0M338.81 179.55h0M334.8 175.25h0M336.74 175.43h0M336.52 176.84h0M349.92 172.79h0M337.34 172.76h0M328.71 173.39h0M328.55 171.53h0M337.97 174.59h0M341.04 173.28h0M318.06 176.38h0M328.86 179.01h0M325.86 171.76h0M319.97 172.13h0M322.17 175.08h0M326.24 174.65h0M352.31 177.95h0M351.79 175.27h0M325.49 176.78h0M340.85 169.75h0M342.34 178.42h0M327.22 173.19h0M348.59 171.48h0M335.23 178.95h0M328.01 174.94h0M322.4 174.48h0M325.26 178.43h0M349.86 171.2h0M335.16 177.15h0M325.86 179.59h0M326.33 171.48h0M331.28 179.64h0M353.15 177.17h0M345.7 171.62h0M336.97 173.77h0M315.78 174.76h0M338.91 171.16h0M333.56 173.09h0M336.39 174.21h0M341.11 171.34h0M320.39 176.41h0M317.8 172.18h0M333.18 177.68h0M348.35 172.8h0M339.7 169.55h0M349.44 176.74h0M349.93 171.62h0M332.97 177.54h0M341.8 178.03h0M318.99 177.91h0M335.91 170.95h0M328.86 172.31h0M327.6 176.88h0M317.9 171.09h0M339.36 179.21h0M340.29 179.77h0M324.03 173.22h0M327.78 173.27h0M323.43 178.08h0M324.04 173.91h0M325.97 176.95h0M325.9 178.17h0M334.07 173.03h0M323.27 172.54h0M335.1 176.35h0M336.01 173.52h0M331.38 174.57h0M350.57 173.15h0M326.3 175.64h0M336.56 177.36h0M339.77 170.22h0M328.49 173.4h0M316.92 175.82h0M344.59 169.77h0M334.36 170.62h0M344.66 175.48h0M314.95 175.01h0M322.27 171.59h0M340.1 173.78h0M347.88 173.84h0M344.64 173.27h0M336.25 170.06h0M324.52 175.55h0M318.01 176.99h0M333.64 171.77h0M334.69 174.24h0M342.08 179.38h0M351.57 173.4h0M339.09 176.03h0M323.59 174h0M338.15 174.88h0M323.9 178.97h0M316.12 175.98h0M351.36 177.2h0M349.17 177.79h0M339.55 177.58h0M350.28 171.7h0M342.69 171.28h0M331.47 173.06h0M338.7 176.38h0M349.93 178.6h0M314.07 177.17h0M343.83 177.74h0M337.61 179.1h0M322 178.93h0M349.03 176.02h0M339.85 171.83h0M332.74 175.8h0M351.91 178.23h0M327.47 175.19h0M336.92 179.91h0M335.55 177.31h0M345.78 170.41h0M336.53 179.6h0M346.65 179.51h0M318.98 177.91h0M323.86 179h0M344.99 173.45h0M336.42 174.5h0M351.56 175.43h0M315.44 175.23h0M332.72 174.41h0M315.08 173.07h0M324.2 172.47h0M342.15 179.68h0M343.78 170.14h0M346.69 178.38h0M347.5 177.36h0" stroke="#1f94ec" stroke-width="3" stroke-linecap="round" fill="none"/>
<path d="M322.39 174.9h0M334.92 171.83h0M353.38 177.19h0M342.6 179.02h0M331.38 171.67h0M332.51 175.64h0M330.14 172.54h0M340.66 180.2h0M322.73 180.08h0M313.16 177.48h0M326.13 175.3h0M329.34 180.98h0M333.98 180.3h0M332.1 171.75h0M315.63 177.4h0M326.95 179.96h0M319.22 171.9h0M325.93 171.8h0M329.29 179.01h0M316.06 175.1h0M349.61 172.51h0M315.88 171.85h0M349.41 169.91h0M318.02 178.61h0M339.35 172.58h0" stroke="#0072bd" stroke-width="2.6" stroke-linecap="round" fill="none"/>
<path d="M310.2 174.7h0M362.5 168.9h0M366.2 172.5h0M355.3 176.9h0M375 172h0M380 173h0M368.17 170.07h0M374.08 176.06h0M376.22 176.34h0M363.87 180.01h0M364.23 169.21h0M365.19 172.11h0M366.05 181.97h0M365.13 179.67h0M356.69 168.16h0M346.54 168.26h0M352.19 171.79h0M355.61 177.16h0M369.71 178.76h0M369.82 179.97h0M368.8 174.43h0M358.64 169.14h0M345.44 180h0M349.91 180.1h0M358.18 168.84h0M372.36 178h0M377.92 175.59h0M375.69 175.09h0M353.63 173.62h0M366.78 180.46h0M371.93 181.03h0" stroke="#0072bd" stroke-width="2.6" stroke-linecap="round" fill="none"/>
<path d="M349.1 170.7l3.6 3.6m0 -3.6l-3.6 3.6M351.3 171.5l3.6 3.6m0 -3.6l-3.6 3.6M368 172.2l3.6 3.6m0 -3.6l-3.6 3.6M370.2 171.5l3.6 3.6m0 -3.6l-3.6 3.6M345.2 168.2l3.6 3.6m0 -3.6l-3.6 3.6M354.2 170.2l3.6 3.6m0 -3.6l-3.6 3.6" stroke="#5cd13a" stroke-width="1.2" fill="none"/>
<path d="M341.7 22.1h0M352.1 49.4h0M359.5 46.3h0M332.8 60.6h0M335.6 77.9h0M335.6 81.7h0M331 90.3h0M337.1 102.8h0M341.9 128.4h0M350.7 130.2h0M331.3 134.6h0M331.3 136.7h0M341 137.5h0M340.1 139.6h0M347.7 140.2h0M331.3 143.4h0M338.9 148.4h0M343 151.3h0M351.8 150.4h0M360 155.7h0M357.1 157.2h0M329.3 155.1h0M326.3 157.2h0M321.9 160.1h0M335.1 155.7h0M338 152.8h0M382 149.9h0M379.1 153.7h0M396.7 143.4h0M396.7 151.3h0M399.6 152.2h0M392.3 163.9h0M398.2 177.7h0M399.6 179.2h0M401.1 177.1h0M345.4 183.6h0M336.6 186.5h0M330.7 198.2h0M335.1 195.3h0M409 134.5h0M412.7 136.4h0M396.4 143.6h0M383.6 150h0M380 153.6h0M397.3 150.9h0M400 151.8h0M403.6 150.4h0M405.5 150.4h0M409 157.6h0M424.5 156.4h0M427.3 157.6h0M435.5 159.1h0M441.5 160.9h0M430 152.7h0M434.5 153.3h0M391.8 164.5h0M422.7 170h0M437.3 181.8h0M472.7 174.5h0M467.3 131.8h0M471.8 133.3h0M382.7 171.8h0M387.3 172.7h0M390 173.6h0M385.5 176.4h0M381.8 179.1h0M393.6 175.5h0M399 176.4h0M399 179.1h0M401.8 177.3h0M329.8 154.4h0M326.9 157.3h0M321.1 159.9h0M342.9 151.5h0M352.4 151.5h0M340 158h0M340.4 159.9h0M329.8 160.9h0M334.2 162.4h0M334.9 164.5h0M339.3 163.1h0M348 161.6h0M348 164.5h0M359.6 156.5h0M358.2 160.2h0M343.6 167.5h0M326.9 163.8h0M358.2 168.9h0M361.1 171.8h0M364 175.5h0M366.9 177.6h0M368.4 168.2h0M374.2 168.2h0M378.5 171.8h0M375.6 176.9h0M371.3 174.7h0M331.3 198.7h0M335.6 195.8h0M334.2 184.9h0M330.5 184.9h0M345.8 185.6h0M349.5 184.2h0M353.8 181.3h0M519.4 175.7h0M536.1 171h0M424.7 157.2h0M427.6 157.2h0M435.8 159.5h0M441.7 160.7h0M333.73 166.5h0M326.31 166.8h0M336.12 168.9h0M332.36 170.32h0M335.21 165.98h0M334.42 166.37h0M342.39 169.1h0M320.43 167.72h0M328.08 165.63h0M325.61 170.02h0M340.56 168.77h0M321.61 169.04h0M341.5 167.12h0M329.6 165.84h0M333.77 170.28h0M335.25 166.79h0M327.12 166.69h0M329.39 169.2h0M329.54 170.38h0M336.47 170.13h0M376.59 174.01h0M366.37 179.75h0M384.17 179.64h0M382.86 175.14h0M386.71 178.87h0M389.88 173.46h0M378.72 179.45h0M378.71 178.02h0M379.32 178.33h0M364.25 170.01h0M453.35 136.89h0M428.41 142.86h0M426.36 147.88h0M443.68 134.73h0M453.91 131.82h0M451.66 139.81h0M442.13 129.77h0M431.89 139.89h0M443.41 128.9h0M427.85 146.31h0M435.9 129.72h0M444.01 135.69h0M425.6 143.31h0M428.71 149.12h0M438.58 146.32h0M432.64 148.4h0M424.05 146.21h0M419.09 144.85h0M415.81 144.4h0M431.88 132.25h0M438.03 135.25h0M443.61 134.83h0M435.35 138.31h0M436.74 141.43h0M432.76 138.93h0M424.84 144.8h0M439.92 144.56h0M428.99 148.78h0M439.68 143.23h0M427.66 140.61h0M455.22 135.19h0M416.14 143.27h0M420.22 149.23h0M439.19 137.4h0M435.77 145.85h0M451.7 131.41h0M421.66 140.36h0M444.76 136.96h0M417.09 141.07h0M429.52 134.13h0M439.08 138.76h0M427.08 144.98h0M442.53 144.08h0M426.65 140.76h0M441.56 128.89h0M438.02 142.14h0M446.26 139.61h0M444.45 139.4h0M429.72 138.53h0M454.84 135.44h0M423.8 142.02h0M440.12 129.28h0M435.12 129.83h0M429.28 136.48h0M437.55 137.98h0M423.3 146.01h0M437.91 142.45h0M416.49 144.75h0M441.87 139.53h0M449.56 139.68h0M439.01 136.94h0M442.78 132.63h0M444.28 137.93h0M442.45 128.35h0M451.61 135.81h0M429.22 147.56h0M441.89 136.25h0M446.07 132.89h0M417.47 147.08h0M428.89 133.93h0M424.48 148.3h0M442.74 130.53h0M433.49 143.38h0M444.19 144.33h0M443.78 139.54h0M429.26 138.06h0M419.55 141.75h0M440.46 135.26h0M449.06 140.42h0M439.42 129.64h0M447.35 132.32h0M433.5 132.54h0M448.24 138.46h0M439.91 139.23h0M441.42 137.94h0M431.41 145.09h0M435.85 137.78h0M442.51 139.39h0M424.72 144.43h0M452.41 134.62h0M427.54 135.39h0M443.76 137.99h0M438.23 129.65h0M420.22 138.69h0M444.47 142.68h0M428.12 133.84h0M431.18 144.17h0M416.86 144.16h0M420.36 141.64h0M436.11 142.46h0M422.44 147.38h0M437.33 130.63h0M444.53 129.96h0M442.52 130.78h0M418.41 141.42h0M446.4 128.84h0M447.91 139.84h0M441.25 136.34h0M445.97 136.16h0M450.69 127.55h0M437.51 132.08h0M424.88 147.4h0M436.8 134.84h0M450.46 131.33h0M446.35 141.14h0M423.17 136.43h0M456.43 131.33h0M427.06 136.2h0M447.36 136.38h0M430.85 137.05h0M448.08 135.03h0M425.86 145.83h0M447.35 127.38h0M432.93 146.04h0M452.18 131.1h0M419.05 146.14h0M437.33 139.04h0M444.61 133.56h0M446.38 140.55h0M431.48 138.87h0M443.09 134.61h0M451.73 129.75h0M419.19 141.93h0M438.93 140.9h0M428.9 141.07h0M433.78 147.8h0M432.36 145.88h0M432.79 144.57h0M443.72 143.44h0M453.02 134.2h0M433.02 130.03h0M442.71 136.31h0M418.56 141.12h0M428.13 146.18h0M428.71 137.29h0M422.18 140.25h0M433.13 139.73h0M436.18 135.1h0M429.42 139.51h0M448.29 129.28h0M419.71 140.31h0M442.21 132.92h0M442.24 132.23h0M428.52 133.11h0M431.53 145.36h0M423.99 143.35h0M455.1 135.98h0M431.39 133.2h0M425 136.92h0M440.54 130.04h0M439.94 138.05h0M446.43 139.07h0M422.68 136.59h0M431.67 132.4h0M454.75 135.71h0M447.63 135.29h0M431.44 146.05h0M431.92 143.91h0M444.86 136.6h0M441.64 138.11h0M439.95 141.16h0M444.45 135.77h0M445.84 140h0M449.4 134.61h0M425.6 148.39h0M433.13 131.1h0M426.05 136.14h0M421.21 139.15h0M422.56 144.71h0M441.99 141.25h0M450.65 135.2h0M444.72 142.32h0M454.12 128.86h0M440.75 128.81h0M430.83 139.33h0M421.87 138.64h0M434.88 136.02h0M440.94 129.91h0M439.85 145.91h0M439.14 129.78h0M430.88 137.7h0M435.62 144.78h0M435.18 142.91h0M446.17 141.65h0M418.58 142.47h0M452.89 130.74h0M437.27 132.5h0M446.07 141.24h0M443.84 138.63h0M434.96 147.93h0M448.82 141.8h0M438.67 138.83h0M431.93 132.84h0M431.48 147.6h0M426.3 140.19h0M435.01 140.46h0M436.93 138.12h0M420.04 139.91h0M437.72 138.69h0M436.31 132.52h0M434.1 147.48h0M431.64 140.7h0M434.48 146.88h0M422.59 143.79h0M433.25 145.1h0M431.76 146.06h0M444.25 140.25h0M453.88 129.79h0M442.91 143.55h0M435.25 144.61h0M430.51 142.27h0M448.31 138.61h0M441.76 145.89h0M421.29 148.83h0M430.94 139.09h0M423.57 141.73h0M427.94 146.26h0M428.38 135.81h0M434.78 135.74h0M436.47 142.44h0M439.23 144.31h0M421.77 137.92h0M422.52 147.69h0M441.98 129.45h0M453.09 132.76h0M434.08 138.97h0M431.56 143.76h0M440.55 142.25h0M441.91 132.77h0M440.53 142.69h0M437.25 132.17h0M441.91 131.92h0M438 137.57h0M452.23 138.54h0M449.76 141.28h0M451.23 136.74h0M432.83 144.17h0M446.42 131.15h0M421.46 136.61h0M446.98 140.63h0M451.18 137.9h0M433.38 131.44h0M419.23 137.97h0M452.77 132.51h0M429.67 139.16h0M443.45 142.12h0M433.47 148.27h0M442.65 138.12h0M440.63 136.7h0M431.71 140.64h0M431.4 138.48h0M439.57 140.92h0M425.07 148.42h0M424.45 136.79h0M433 131.4h0M447.59 130.34h0M438.01 143.46h0M439.9 145.56h0M429.74 143.04h0M433.28 144.85h0M439.84 131.51h0M426.06 147.83h0M425.28 148.36h0M420.4 144.06h0M420.22 141.32h0M430.68 144.48h0M452.03 133.07h0M431.44 131.4h0M447.64 138.45h0M444.81 128.71h0M438.48 144.42h0M437.68 144.74h0M419.75 142.77h0M441.83 134.41h0M429.96 143.73h0M427.56 142.06h0M424.14 146.39h0M450.52 138.29h0M434.37 146.92h0M443.47 133.6h0M446.43 132.65h0M436.93 141.82h0M449.46 129.88h0M449.54 134.19h0M432.31 134.94h0M445.91 135.62h0M419.34 148.75h0M424.87 146.02h0M418.33 148.72h0M446.3 132.79h0M431.39 143.74h0M453.67 132.99h0M453.06 138.13h0M434.72 135.09h0M451.33 139.34h0M451.63 135.46h0M445.37 143.66h0M455.5 130.11h0M423.99 145.01h0M450.38 140.72h0M430.13 137.22h0M427.53 146.02h0M422.32 141.4h0M446.19 134.67h0M429.45 134.56h0M417.91 143.28h0M442.79 135.99h0M421.6 143.51h0M422.32 145.51h0M440.31 133.5h0M451.35 130.91h0M432.5 135.05h0M427.4 147.05h0M424.54 146.83h0M454.01 132.41h0M440.25 146.19h0M436.43 129.26h0M421.54 144.24h0M441.34 132.71h0M429.78 136.63h0M418.12 141.58h0M439.67 129.32h0M417.62 145.31h0M424.18 135.21h0M420.64 144.55h0M426.57 149.19h0M435.09 131.1h0M451.87 136.01h0M454.32 130.58h0M451.58 130.94h0M442.41 128.82h0M417.08 147.26h0M424.24 144.64h0M422.88 148.05h0M425.5 143.65h0M440.66 143.38h0M439.13 128.83h0M448.9 127.38h0M415.86 145.79h0M444.71 128.68h0M433.81 147.82h0M446.11 127.86h0M451.52 131.6h0M429.78 136.62h0M438.58 137.27h0M430.64 132.19h0M427.21 133.87h0M419.02 146.06h0M451.51 135.53h0M449.6 139.05h0M419.16 142.68h0M440.98 146.91h0M440.65 136.59h0M449.39 133.3h0M436.65 139.43h0M422.19 149.12h0M440.78 135.5h0M424.72 144.09h0M450.68 129.91h0M425.97 144.78h0M430.67 136.93h0M432.73 136.95h0M439.91 136.17h0M429.43 138.67h0M445.25 140.76h0M447.74 138.41h0M433.7 140.8h0M421.79 151.87h0M438.92 134.33h0M437.9 136.22h0M429.44 144.02h0M429.34 133.44h0M429.69 140.5h0M427.34 148.97h0M428.12 151.43h0M444.77 130.44h0M440.29 143.82h0M432.6 133.48h0M441.54 147.85h0M421.69 147.13h0M436.71 137.95h0M432.05 138.54h0M449.11 137.4h0M428.84 150.11h0M424.01 146.91h0M440.98 143.7h0M442.6 142.33h0M438.35 143.42h0M444.43 147.71h0M431.5 147.14h0M442.23 137.6h0M431.58 142.98h0M418.55 137.68h0M441.84 128.17h0M451.96 131.58h0M439.76 137.96h0M440.98 135.55h0M432.74 139.4h0M450.3 139.98h0M451.36 135.35h0M431.8 131.15h0M445.4 140.15h0M434.03 144.1h0M451.05 133.96h0M448.93 135.92h0M417.37 143.09h0M433.47 142.77h0M426.85 139.82h0M426.5 142.17h0M439.45 143.06h0M445.87 136.24h0M439.77 138.16h0M440.94 145.69h0M409.79 147.49h0M442.36 142.86h0M425.76 144.57h0M445.49 133.01h0M415.7 144.32h0M425.15 146.48h0M430.94 150.62h0M437.07 134.08h0M429.58 135.22h0M443.83 144.33h0M436.29 143.94h0M427.33 143.79h0M452.37 139.46h0M414.1 138.96h0M428.14 147.15h0M432.04 139.44h0M444.82 136.37h0M438.83 136.11h0M447.73 130.35h0M454.46 130.33h0M429.49 144.87h0M438.3 127.12h0M436.94 131.1h0M429.38 145.68h0M428.25 143.7h0M436.26 149.51h0M433.79 133.2h0M423.36 138.49h0M438.27 138.05h0M447.65 135.57h0M438.84 139.64h0M435.98 140.5h0M446.7 139.31h0M427.8 132.07h0M428.59 143.12h0M409.08 146.02h0M440.65 134.04h0M427.83 151.53h0M451.29 131.85h0M453.37 139.7h0M426.16 140.95h0M425.04 143.24h0M422.5 143.69h0M448.79 135.34h0M436.59 147.14h0M428.72 146.81h0M433.8 140.79h0M437.23 139.05h0M434.69 134.93h0M431.28 142.94h0M433.39 133.29h0M427.75 137.93h0M436.31 139.63h0M436.39 134.99h0M434.3 131.78h0M416.96 140.41h0M424.57 146.35h0M423.88 144.63h0M428.95 134.41h0M420.2 146.97h0M441.92 140.79h0M456.61 132.65h0M439.13 136.81h0M436.81 136.39h0M430.15 151.77h0M416.57 147.08h0M441.27 137.51h0M425.46 141.36h0M429.27 135.07h0M434.91 136.7h0M431.36 144.01h0M425.42 144.82h0M430.21 142.99h0M437.21 139.4h0M424.05 138.56h0M427.05 142.71h0M445.95 140.83h0M430.7 140.88h0M425.39 138.64h0M415.99 135.91h0M440.21 132.47h0M437.13 136.26h0M441.77 132.12h0M450.17 124.75h0M421.44 142.94h0M430 148.35h0M417.15 141.2h0M439.26 140.28h0M447.08 136.21h0M458.55 127.52h0M439.04 141.95h0M431.68 138.28h0M429.45 137.15h0M422.42 140.19h0M419.54 146.38h0M422.04 154.76h0M455.77 137.18h0M432.17 136.43h0M448.97 134.54h0M440.21 132.76h0M445.51 130.38h0M433.51 129.61h0M429.25 143.46h0M429.76 138.04h0M443.76 135h0M442.39 138.69h0M416.45 138.18h0M442.92 129.82h0M429.56 143.85h0M432.62 142.07h0M426.53 143.3h0M447.56 135.79h0M412.87 150.21h0M434.36 133.81h0M447.24 124.51h0M454.38 128.03h0M452.19 132.07h0M421.18 144.12h0M439.85 139.78h0M445.15 129.93h0M441.92 140.1h0M430.74 134.96h0M426.36 145.84h0M442.44 131.28h0M423.1 149.72h0M418.88 145.31h0M423.53 133.06h0M436.3 137.04h0M435.09 144.17h0M445.61 131.81h0M428.83 149.67h0M431.32 139.75h0M431.93 138.94h0M430.12 144.45h0M448.14 131.72h0M420.54 144.1h0M418.17 141.16h0M452.64 144.92h0M437.45 131.79h0M439.71 124.47h0M430.52 148.57h0M440.86 128.82h0M418.92 149.12h0M433.73 135.75h0M438.71 134.04h0M416.06 149.9h0M426.55 136.11h0M421.4 144.88h0M427.74 144.63h0M434.33 144.75h0M429.98 136.78h0M412.17 140.81h0M420 138.3h0M439.78 139.45h0M428.16 141.48h0M417.49 143.29h0M447.88 142.87h0M433.04 137.84h0M442.13 142.06h0M439.22 132.89h0M440.86 141.76h0M425.28 134.74h0M441.44 138.24h0M445.87 135.1h0M427.62 138.85h0M422.59 137.87h0M428.44 138.3h0M445.15 128.13h0M433.79 135.78h0M451.81 133.9h0M432.79 143.87h0M435.24 135.88h0M453.13 135.9h0M456.02 137.31h0M443.96 136.07h0M425 146.15h0M437.38 141.46h0M434.11 135.14h0M425.85 145.79h0M448.81 132.01h0M442.77 143.4h0M425.88 140.07h0M425.51 148.56h0M437.46 135.19h0M417.37 144.06h0M445.66 133.13h0M432.06 143.23h0M422.34 143.53h0M440.54 132.34h0M427.04 142.91h0M434.02 137.71h0M438.12 138.73h0M424.4 138.84h0M442.32 142.15h0M448.56 129.07h0M448.61 137.87h0M436.08 140.95h0M447.6 143.9h0M425.3 145.5h0M433.7 138.01h0M449.31 137.96h0M424.2 141.06h0M435.53 130.74h0M444.71 134.74h0M437.92 139.46h0M455.01 131.6h0M434.84 148.28h0M429.31 137.88h0M422.67 149.1h0M439.35 139.69h0M437.16 137.17h0M425.85 137.75h0M440.46 137.39h0M451.74 128.45h0M428.63 135.43h0M448.21 127.15h0M446.42 142.42h0M435.42 142.52h0M412.23 144.88h0M418.23 145.76h0M434.4 134.72h0M446.38 136.52h0M429.17 138.03h0M419.63 143.3h0M457.06 126.8h0M439.2 134.19h0M445.03 137.48h0M430.05 130.77h0M432.3 146.27h0M434.18 142.46h0M427.27 131.33h0M440.8 138.36h0M428.86 138.94h0M437.74 134.49h0M439.03 136.15h0M410.26 146.95h0M427.85 136.76h0M439.14 134.55h0M443.39 141.66h0M434.51 130.45h0M429.5 145.73h0M431.53 135.59h0M435.64 141.26h0M439.63 140.59h0M426.44 140.36h0M433 139.35h0M412.94 145.49h0M423.85 150.41h0M455.32 140.55h0M443.54 132.99h0M445.65 133.78h0M440.7 131.75h0M430.31 143.01h0M454.66 131.47h0M422.03 143.34h0M425.37 141.51h0M429.96 140.24h0M447.74 139.27h0M438.57 137.49h0M437.29 138.64h0M441.94 136.28h0M438.87 130.2h0M447.35 143.84h0M435.29 130.94h0M449.67 131.64h0M442.97 137.99h0M450.18 136.66h0M433.68 128.45h0M424.24 143.69h0M441.26 130.89h0M430.12 143.14h0M433.82 140.6h0M426.68 129.26h0M433.75 131.97h0M442.66 135.45h0M439.8 140.56h0M431.67 144.54h0M449.84 135.57h0M448.96 130.28h0M446.12 136.22h0M425.16 141.95h0M429.21 137.88h0M438.65 143.29h0M432.68 140.33h0M420.34 144.72h0M449.62 137.92h0M440.01 134.09h0M425.26 141.83h0M419.37 137.73h0M444.33 130.38h0M452.56 124.58h0M438.4 131.14h0M435.89 132.78h0M436.02 137.57h0M431.93 142.72h0M450.96 129.75h0M445.47 135.45h0M439.4 149.22h0M411.42 143.65h0M415.92 144.03h0M442.73 145.83h0M448.98 131.3h0M443.92 144.7h0M438.08 138.82h0M438.59 129.25h0M427.75 143.28h0M440.07 131.91h0M432.17 139.15h0M435.45 142.43h0M437.27 138.88h0M418.83 138.9h0M436.47 129.51h0M437.55 134.23h0M428.26 144.79h0M427.05 136.97h0M428.67 141.4h0M435.15 137.39h0M372.5 177.07h0M369.82 169.96h0M374.12 176.8h0M354.37 170.27h0M345.26 166.56h0M348.47 171.27h0M359.51 172.77h0M343.5 168.45h0M342.61 166.69h0M351.82 176.85h0M347.06 181.02h0M374.58 176.46h0M343.59 169.09h0M358.86 181.89h0" stroke="#d0501c" stroke-width="3.0" stroke-linecap="round" fill="none"/>
<rect x="458.2" y="17.9" width="86.7" height="34.1" fill="#fff" stroke="#a8a8a8" stroke-width="0.6"/>
<path d="M458.2 25.5H544.9" stroke="#a8a8a8" stroke-width="0.6"/>
<text transform="translate(500.9 23.74) scale(1 1.0)" font-size="5.4" font-weight="bold" text-anchor="middle" fill="#202020" stroke="#202020" stroke-width="0.22">Model predictions</text>
<text transform="translate(472.2 31.54) scale(1 1.0)" font-size="5.4" font-weight="bold" text-anchor="start" fill="#202020" stroke="#202020" stroke-width="0.22">0 - Healthy Misclassification</text>
<text transform="translate(472.2 37.54) scale(1 1.0)" font-size="5.4" font-weight="bold" text-anchor="start" fill="#202020" stroke="#202020" stroke-width="0.22">0 - Healthy Correct prediction</text>
<text transform="translate(472.2 44.04) scale(1 1.0)" font-size="5.4" font-weight="bold" text-anchor="start" fill="#202020" stroke="#202020" stroke-width="0.22">1 - Damage Misclassification</text>
<text transform="translate(472.2 50.44) scale(1 1.0)" font-size="5.4" font-weight="bold" text-anchor="start" fill="#202020" stroke="#202020" stroke-width="0.22">1 - Damage Correct prediction</text>
<path d="M463.7 28.5l2.4 2.4m0 -2.4l-2.4 2.4" stroke="#45aee0" stroke-width="0.8" fill="none"/>
<path d="M464.9 35.7h0" stroke="#0072bd" stroke-width="2.4" stroke-linecap="round" fill="none"/>
<path d="M463.7 41l2.4 2.4m0 -2.4l-2.4 2.4" stroke="#5cd13a" stroke-width="0.8" fill="none"/>
<path d="M464.9 48.6h0" stroke="#d0501c" stroke-width="2.4" stroke-linecap="round" fill="none"/>
<rect x="162.5" y="259" width="68.5" height="88" fill="#0071bc"/>
<rect x="231" y="259" width="69" height="88" fill="#fae9e3"/>
<rect x="162.5" y="347" width="68.5" height="88.5" fill="#fae9e3"/>
<rect x="231" y="347" width="69" height="88.5" fill="#0071bc"/>
<path d="M162.5 259H300V435.5H162.5ZM231 259V435.5M162.5 347H300M334 259H403V435.5H334ZM368.5 259V435.5" stroke="#000" stroke-opacity="0.2" stroke-width="0.6" fill="none"/>
<rect x="334" y="259" width="34.5" height="176.5" fill="#1476bf"/>
<rect x="368.5" y="259" width="34.5" height="176.5" fill="#fae9e3"/>
<path d="M334 347H403" stroke="#000" stroke-opacity="0.2" stroke-width="0.6" fill="none"/>
<text transform="translate(282.7 257.18) scale(1 1.0)" font-size="7.3" font-weight="bold" text-anchor="middle" fill="#202020" stroke="#202020" stroke-width="0.22">Model 1 (Cubic SVM)</text>
<text transform="translate(197.3 306.14) scale(1 1.1)" font-size="6.8" font-weight="normal" text-anchor="middle" fill="#eef4fa" stroke="#eef4fa" stroke-width="0.06">93.5%</text>
<text transform="translate(265.7 306.14) scale(1 1.1)" font-size="6.8" font-weight="normal" text-anchor="middle" fill="#141414" stroke="#141414" stroke-width="0.06">6.5%</text>
<text transform="translate(197 393.54) scale(1 1.1)" font-size="6.8" font-weight="normal" text-anchor="middle" fill="#141414" stroke="#141414" stroke-width="0.06">5.6%</text>
<text transform="translate(265.5 393.54) scale(1 1.1)" font-size="6.8" font-weight="normal" text-anchor="middle" fill="#eef4fa" stroke="#eef4fa" stroke-width="0.06">94.4%</text>
<text transform="translate(351.2 305.94) scale(1 1.1)" font-size="6.8" font-weight="normal" text-anchor="middle" fill="#eef4fa" stroke="#eef4fa" stroke-width="0.06">93.5%</text>
<text transform="translate(385.6 305.94) scale(1 1.1)" font-size="6.8" font-weight="normal" text-anchor="middle" fill="#141414" stroke="#141414" stroke-width="0.06">6.5%</text>
<text transform="translate(351 393.54) scale(1 1.1)" font-size="6.8" font-weight="normal" text-anchor="middle" fill="#eef4fa" stroke="#eef4fa" stroke-width="0.06">94.4%</text>
<text transform="translate(385.6 393.54) scale(1 1.1)" font-size="6.8" font-weight="normal" text-anchor="middle" fill="#141414" stroke="#141414" stroke-width="0.06">5.6%</text>
<text transform="translate(159 305.31) scale(1 1.0)" font-size="6.2" font-weight="normal" text-anchor="middle" fill="#444" stroke="#444" stroke-width="0.1">0</text>
<text transform="translate(159 393.11) scale(1 1.0)" font-size="6.2" font-weight="normal" text-anchor="middle" fill="#444" stroke="#444" stroke-width="0.1">1</text>
<text transform="translate(197 443.31) scale(1 1.0)" font-size="6.2" font-weight="normal" text-anchor="middle" fill="#444" stroke="#444" stroke-width="0.1">0</text>
<text transform="translate(265.5 443.01) scale(1 1.0)" font-size="6.2" font-weight="normal" text-anchor="middle" fill="#444" stroke="#444" stroke-width="0.1">1</text>
<text transform="translate(282.75 451.46) scale(1 1.1)" font-size="7.1" font-weight="normal" text-anchor="middle" fill="#262626" stroke="#262626" stroke-width="0.08">Predicted Class</text>
<text transform="translate(154.34 347) rotate(-90) scale(1 1.1)" font-size="6.8" font-weight="normal" text-anchor="middle" fill="#262626" stroke="#262626" stroke-width="0.08">True Class</text>
<text transform="translate(344 444.65) scale(1 1.0)" font-size="7.5" font-weight="bold" text-anchor="middle" fill="#202020" stroke="#202020" stroke-width="0.22">TPR</text>
<text transform="translate(382.8 444.65) scale(1 1.0)" font-size="7.5" font-weight="bold" text-anchor="middle" fill="#202020" stroke="#202020" stroke-width="0.22">FNR</text>
<text x="137.85" y="239.2" font-size="10.8" text-anchor="middle" fill="#111">(<tspan font-weight="bold">a</tspan>)</text>
<text x="419" y="239.1" font-size="10.8" text-anchor="middle" fill="#111">(<tspan font-weight="bold">b</tspan>)</text>
<text x="278.4" y="469.8" font-size="10.8" text-anchor="middle" fill="#111">(<tspan font-weight="bold">c</tspan>)</text>
</svg></body></html>
